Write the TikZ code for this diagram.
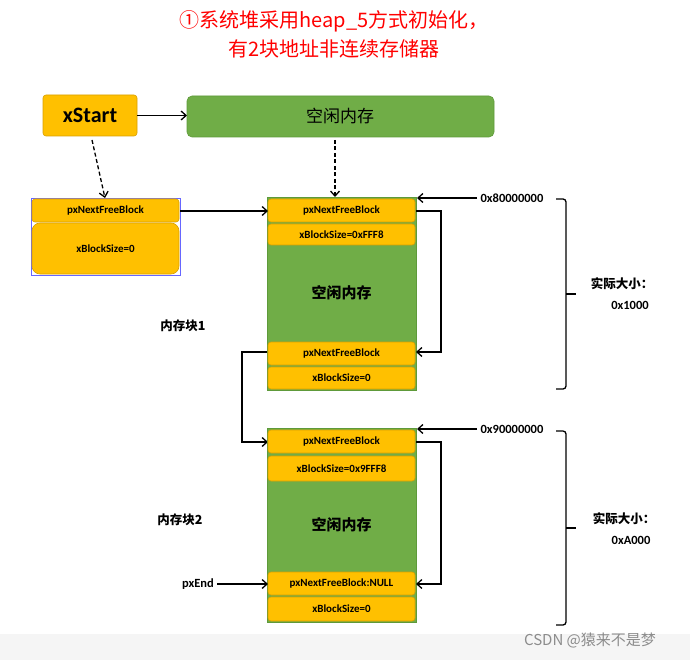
\documentclass[tikz,border=0pt]{standalone}
\usepackage{fontspec}
\setmainfont{Carlito}
\newfontfamily\cjk{Noto Sans CJK SC}
\usetikzlibrary{arrows.meta}
\definecolor{org}{HTML}{FFC000}
\definecolor{orgd}{HTML}{D9A000}
\definecolor{grn}{HTML}{70AD47}
\definecolor{grnd}{HTML}{5E9A3A}
\definecolor{ttl}{HTML}{FF0000}
\tikzset{
 ob/.style={draw=orgd,fill=org,rounded corners=3pt,line width=0.6pt},
 gb/.style={draw=grnd,fill=grn,line width=0.6pt},
 fld/.style={font=\bfseries\fontsize{11}{12}\selectfont},
 hx/.style={font=\bfseries\fontsize{12.5}{13}\selectfont},
 ar/.style={-{Straight Barb[length=5pt,width=9pt]},line width=1.3pt},
 dar/.style={ar,dashed,dash pattern=on 4pt off 2.5pt},
 lbl/.style={font=\cjk\bfseries\fontsize{12.5}{13}\selectfont},
 brace/.style={line width=1.3pt,rounded corners=3pt}
}
\begin{document}
\begin{tikzpicture}[x=1pt,y=-1pt]
\useasboundingbox (0,0) rectangle (690,660);
\fill[white] (0,0) rectangle (690,660);
\fill[black!4] (0,634) rectangle (690,660);
% title
\node[font=\cjk\fontsize{20}{22}\selectfont,text=ttl] (t1) at (334,21) {①系统堆采用heap\_5方式初始化，};
\node[font=\cjk\fontsize{20}{22}\selectfont,text=ttl] (t2) at (334,49) {有2块地址非连续存储器};
% top
\draw[ob] (43,95) rectangle (137,136);
\node[font=\bfseries\fontsize{22}{24}\selectfont] (xs) at (90,115.5) {xStart};
\coordinate (xsE) at (137,115.5);
\draw[gb,rounded corners=5pt] (187,96) rectangle (494,137);
\node[font=\cjk\fontsize{17}{18}\selectfont] (fm) at (340,116.5) {空闲内存};
\coordinate (fmW) at (187,115.5);
\draw[ar] (xsE) -- (fmW);
% left block
\draw[draw=blue!60,line width=0.6pt] (31,198) rectangle (180,275);
\draw[ob] (32,199) rectangle (179,222);
\draw[ob,rounded corners=8pt] (32,223) rectangle (179,274);
\node[fld] (l1) at (105.5,210.5) {pxNextFreeBlock};
\node[fld] (l2) at (105.5,248.5) {xBlockSize=0};
\coordinate (xsS) at (92,140);
\coordinate (l1N) at (105,198);
\draw[dar] (xsS) -- (l1N);
% block 1
\draw[gb] (267,197) rectangle (416,390);
\draw[ob] (268,199) rectangle (415,222);
\draw[ob] (268,224) rectangle (415,245);
\draw[ob] (268,342) rectangle (415,365);
\draw[ob] (268,367) rectangle (415,389);
\node[fld] (a1) at (341.5,210.5) {pxNextFreeBlock};
\node[fld] (a2) at (341.5,234.5) {xBlockSize=0xFFF8};
\node[font=\cjk\bfseries\fontsize{15}{16}\selectfont] (a3) at (341.5,293) {空闲内存};
\node[fld] (a4) at (341.5,353.5) {pxNextFreeBlock};
\node[fld] (a5) at (341.5,378) {xBlockSize=0};
\coordinate (fmS) at (335,140);
\coordinate (a1N) at (335,197);
\draw[dar] (fmS) -- (a1N);
\draw[ar] (180,211) -- (268,211);
\draw[ar] (416,211) -- (441,211) -- (441,352) -- (416,352);
\node[hx] (h1) at (512,198) {0x80000000};
\draw[ar] (h1.west) -- (417,198);
\draw[brace] (556,199) -- (566,199) -- (566,389) -- (556,389);
\draw[brace] (566,294) -- (576,294);
\node[lbl] (s1) at (622,284) {实际大小：};
\node[hx] (s1b) at (630,305) {0x1000};
\node[lbl] (k1) at (183,326) {内存块1};
% connection
\draw[ar] (267,352) -- (242,352) -- (242,442) -- (268,442);
% block 2
\draw[gb] (267,428) rectangle (416,622);
\draw[ob] (268,430) rectangle (415,453);
\draw[ob] (268,456) rectangle (415,481);
\draw[ob] (268,572) rectangle (415,595);
\draw[ob] (268,597) rectangle (415,621);
\node[fld] (b1) at (341.5,441.5) {pxNextFreeBlock};
\node[fld] (b2) at (341.5,468.5) {xBlockSize=0x9FFF8};
\node[font=\cjk\bfseries\fontsize{15}{16}\selectfont] (b3) at (341.5,525) {空闲内存};
\node[fld] (b4) at (341.5,583.5) {pxNextFreeBlock:NULL};
\node[fld] (b5) at (341.5,609) {xBlockSize=0};
\draw[ar] (416,442) -- (441,442) -- (441,584) -- (416,584);
\node[hx] (h2) at (512,429) {0x90000000};
\draw[ar] (h2.west) -- (417,429);
\draw[brace] (556,431) -- (566,431) -- (566,625) -- (556,625);
\draw[brace] (566,528) -- (576,528);
\node[lbl] (s2) at (624,519) {实际大小：};
\node[hx] (s2b) at (631,540) {0xA000};
\node[lbl] (k2) at (180,520) {内存块2};
\node[hx] (pe) at (198,584) {pxEnd};
\draw[ar] (pe.east) -- (268,584);
\node[font=\cjk\fontsize{15}{16}\selectfont,text=black!45] (wm) at (590,640) {CSDN @猿来不是梦};
\end{tikzpicture}
\end{document}
